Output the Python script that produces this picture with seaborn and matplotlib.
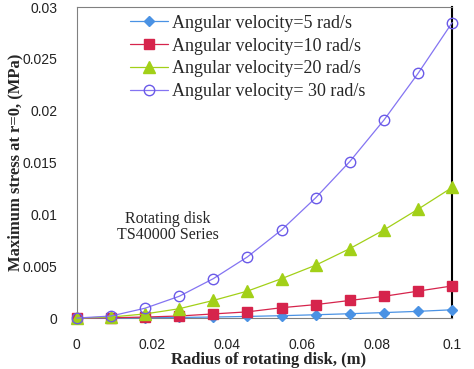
import numpy as np
import pandas as pd
import matplotlib
matplotlib.use("Agg")
import matplotlib.pyplot as plt
import seaborn as sns

radius = [0, 0.00909, 0.01818, 0.02727, 0.03636, 0.04545, 0.05455, 0.06364, 0.07273, 0.08182, 0.09091, 0.1]
w5 = [0, 0.00001, 0.00003, 0.00006, 0.0001, 0.00016, 0.00023, 0.00032, 0.00042, 0.00053, 0.00065, 0.0008]
w10 = [0, 0.00003, 0.0001, 0.0002, 0.0004, 0.0006, 0.0010, 0.0013, 0.0017, 0.0021, 0.0026, 0.0031]
w20 = [0, 0.0001, 0.0004, 0.0009, 0.0017, 0.0026, 0.0038, 0.0051, 0.0067, 0.0085, 0.0105, 0.0126]
w30 = [0, 0.0002, 0.00095, 0.0021, 0.0038, 0.0059, 0.0085, 0.0116, 0.0151, 0.0191, 0.0236, 0.0285]
labels = ["Angular velocity=5 rad/s", "Angular velocity=10 rad/s",
          "Angular velocity=20 rad/s", "Angular velocity= 30 rad/s"]
xticks = [0, 0.02, 0.04, 0.06, 0.08, 0.1]
xticklabels = ["0", "0.02", "0.04", "0.06", "0.08", "0.1"]
yticks = [0, 0.005, 0.01, 0.015, 0.02, 0.025, 0.03]
yticklabels = ["0", "0.005", "0.01", "0.015", "0.02", "0.025", "0.03"]

sns.set_style("white")
plt.rcParams['font.family'] = ['Liberation Serif', 'DejaVu Serif']

fig = plt.figure(figsize=(4.74, 3.69), dpi=100)
ax = fig.add_axes([0.162, 0.138, 0.792, 0.843])

styles = [
    dict(color="#4a92e4", marker="D", ms=5.5, mfc="#4a92e4", mec="#4a92e4"),
    dict(color="#d6244c", marker="s", ms=7.5, mfc="#d6244c", mec="#d6244c"),
    dict(color="#a2d018", marker="^", ms=8, mfc="#a2d018", mec="#a2d018"),
    dict(color="#8474f2", marker="o", ms=7.5, mfc="none", mec="#6a5ae8"),
]
series = [w5, w10, w20, w30]
for vals, lab, st in zip(series, labels, styles):
    df = pd.DataFrame({"r": radius, "s": vals})
    sns.lineplot(data=df, x="r", y="s", ax=ax, label=lab, color=st["color"],
                 marker=st["marker"], markersize=st["ms"], markerfacecolor=st["mfc"],
                 markeredgecolor=st["mec"], markeredgewidth=1.0, linewidth=0.9,
                 clip_on=False, zorder=3)

ax.set_xlim(0, 0.1)
ax.set_ylim(0, 0.03)
ax.set_xticks(xticks)
ax.set_xticklabels(xticklabels)
ax.set_yticks(yticks)
ax.set_yticklabels(yticklabels)
ax.tick_params(axis='x', length=0, pad=14)
ax.tick_params(axis='y', length=0, pad=14)
for t in ax.get_xticklabels() + ax.get_yticklabels():
    t.set_fontfamily('Liberation Sans')
    t.set_fontsize(10)
    t.set_color("#222222")

for side in ["left", "top", "bottom"]:
    ax.spines[side].set_color("#808080")
    ax.spines[side].set_linewidth(0.8)
ax.spines["right"].set_color("black")
ax.spines["right"].set_linewidth(1.5)

ax.set_xlabel("Radius of rotating disk, (m)", fontsize=12, fontweight="bold")
ax.xaxis.set_label_coords(0.51, -0.11)
ax.set_ylabel("Maximum stress at r=0, (MPa)", fontsize=12, fontweight="bold")
ax.yaxis.set_label_coords(-0.142, 0.5)

ax.text(0.0243, 0.0088, "Rotating disk\nTS40000 Series", ha="center", va="center", fontsize=11.5,
        linespacing=1.05)

leg = ax.legend(loc="upper left", bbox_to_anchor=(0.141, 0.975), frameon=False, fontsize=13,
                handlelength=2.1, handletextpad=0.25, labelspacing=0.32, borderaxespad=0,
                borderpad=0)

fig.savefig("out.png", dpi=100)
